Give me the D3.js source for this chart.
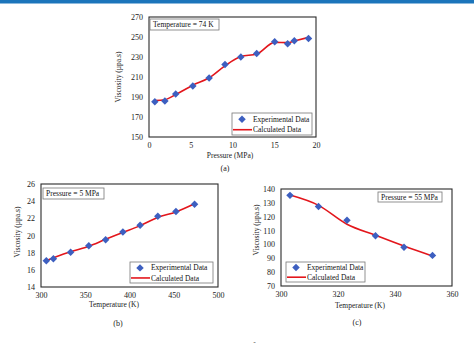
<!DOCTYPE html>
<html>
<head>
<meta charset="utf-8">
<script src="https://cdn.jsdelivr.net/npm/d3@7"></script>
<style>
  html, body { margin: 0; padding: 0; background: #fff; }
  svg { display: block; font-family: "Liberation Serif", "Times New Roman", serif; }
</style>
</head>
<body>
<div id="root"></div>
<script>
// (a) viscosity vs pressure at 74 K
const pressureA = [0.7, 1.9, 3.2, 5.25, 7.2, 9.1, 11.0, 12.9, 15.05, 16.6, 17.4, 19.1];
const expA = [185.3, 185.9, 193, 201, 209, 222.4, 230.1, 233.5, 245.2, 243.3, 246.2, 248.5];
const calcA = [186.5, 187.3, 192.5, 201.8, 209.2, 221.2, 230.6, 233, 244.6, 244.4, 246, 249.6];

// (b) viscosity vs temperature at 5 MPa
const tempB = [306, 314, 333.5, 354, 373, 392.5, 412, 432, 452.5, 473.5];
const expB = [17.05, 17.3, 18.05, 18.8, 19.5, 20.4, 21.2, 22.25, 22.8, 23.65];
const calcB = [17.05, 17.4, 18.1, 18.75, 19.55, 20.35, 21.15, 22.1, 22.75, 23.7];

// (c) viscosity vs temperature at 55 MPa
const tempC = [303.15, 313.15, 323.15, 333.15, 343.15, 353.15];
const expC = [135.4, 127.4, 117.4, 106.3, 97.9, 92.1];
const calcC = [135.6, 128.2, 114.6, 106.6, 98.8, 91.6];

const ticksA = { x: [0, 5, 10, 15, 20], y: [150, 170, 190, 210, 230, 250, 270] };
const ticksB = { x: [300, 350, 400, 450, 500], y: [14, 16, 18, 20, 22, 24, 26] };
const ticksC = { x: [300, 320, 340, 360], y: [70, 80, 90, 100, 110, 120, 130, 140] };

const width = 474;
const height = 343;
const blue = "#3d5fc0";
const red = "#e3161c";
const ink = "#1a1a1a";

const svg = d3.select("#root").append("svg")
  .attr("width", width)
  .attr("height", height);

svg.append("rect")
  .attr("x", 0).attr("y", 0)
  .attr("width", width).attr("height", 3.5)
  .attr("fill", "#1b75bb");

const panels = [
  {
    box: { left: 149, top: 17, right: 316, bottom: 137 },
    xs: pressureA, exp: expA, calc: calcA, ticks: ticksA,
    xLabel: "Pressure (MPa)", xLabelPos: [230, 157.5],
    yLabelPos: [121, 77],
    tag: "(a)", tagPos: [225, 171],
    note: "Temperature = 74 K", noteBox: [150, 19, 69, 11],
    legendBox: [232, 113, 80, 22],
  },
  {
    box: { left: 41, top: 184, right: 218, bottom: 287 },
    xs: tempB, exp: expB, calc: calcB, ticks: ticksB,
    xLabel: "Temperature (K)", xLabelPos: [114, 307],
    yLabelPos: [20, 232],
    tag: "(b)", tagPos: [118, 326],
    note: "Pressure = 5 MPa", noteBox: [43, 188, 61, 11],
    legendBox: [130, 262, 83, 21],
  },
  {
    box: { left: 281, top: 189, right: 452, bottom: 286 },
    xs: tempC, exp: expC, calc: calcC, ticks: ticksC,
    xLabel: "Temperature (K)", xLabelPos: [360, 308],
    yLabelPos: [259, 230],
    tag: "(c)", tagPos: [357, 325],
    note: "Pressure = 55 MPa", noteBox: [378, 192, 64, 10],
    legendBox: [286, 262, 79, 20],
  },
];

panels.forEach(drawPanel);

function drawPanel(p) {
  const b = p.box;
  const x = d3.scaleLinear()
    .domain(d3.extent(p.ticks.x))
    .range([b.left, b.right]);
  const y = d3.scaleLinear()
    .domain(d3.extent(p.ticks.y))
    .range([b.bottom, b.top]);

  const g = svg.append("g");

  g.append("rect")
    .attr("x", b.left).attr("y", b.top)
    .attr("width", b.right - b.left).attr("height", b.bottom - b.top)
    .attr("fill", "none")
    .attr("stroke", "#2a2a2a")
    .attr("stroke-width", 1.1);

  const xAxis = g.append("g")
    .attr("transform", `translate(0,${b.bottom + 3})`)
    .call(d3.axisBottom(x).tickValues(p.ticks.x).tickSize(0).tickPadding(2));
  const yAxis = g.append("g")
    .attr("transform", `translate(${b.left - 3},0)`)
    .call(d3.axisLeft(y).tickValues(p.ticks.y).tickSize(0).tickPadding(3));
  [xAxis, yAxis].forEach(ax => {
    ax.select(".domain").remove();
    ax.selectAll("text")
      .attr("font-family", "Liberation Serif, serif")
      .attr("font-size", 8)
      .attr("fill", ink);
  });

  const line = d3.line()
    .x((d, i) => x(p.xs[i]))
    .y(d => y(d))
    .curve(d3.curveMonotoneX);

  g.append("path")
    .datum(p.calc)
    .attr("fill", "none")
    .attr("stroke", red)
    .attr("stroke-width", 1.6)
    .attr("d", line);

  const diamond = d3.symbol().type(d3.symbolSquare).size(28);
  g.selectAll(".pt")
    .data(p.exp)
    .join("path")
    .attr("class", "pt")
    .attr("d", diamond)
    .attr("transform", (d, i) => `translate(${x(p.xs[i])},${y(d)}) rotate(45)`)
    .attr("fill", blue);

  // axis titles and panel tag
  g.append("text")
    .attr("x", p.xLabelPos[0]).attr("y", p.xLabelPos[1])
    .attr("text-anchor", "middle")
    .attr("font-size", 7.5)
    .attr("fill", ink)
    .text(p.xLabel);

  g.append("text")
    .attr("transform", `translate(${p.yLabelPos[0]},${p.yLabelPos[1]}) rotate(-90)`)
    .attr("text-anchor", "middle")
    .attr("font-size", 7.5)
    .attr("fill", ink)
    .text("Viscosity (µpa.s)");

  g.append("text")
    .attr("x", p.tagPos[0]).attr("y", p.tagPos[1])
    .attr("text-anchor", "middle")
    .attr("font-size", 8)
    .attr("fill", ink)
    .text(p.tag);

  // condition note
  const [nx, ny, nw, nh] = p.noteBox;
  g.append("rect")
    .attr("x", nx).attr("y", ny).attr("width", nw).attr("height", nh)
    .attr("fill", "#fff").attr("stroke", "#777").attr("stroke-width", 0.8);
  g.append("text")
    .attr("x", nx + 3).attr("y", ny + nh / 2 + 2.7)
    .attr("font-size", 7.5)
    .attr("fill", "#111")
    .text(p.note);

  // legend
  const [lx, ly, lw, lh] = p.legendBox;
  const lg = g.append("g");
  lg.append("rect")
    .attr("x", lx).attr("y", ly).attr("width", lw).attr("height", lh)
    .attr("fill", "#fff").attr("stroke", "#777").attr("stroke-width", 0.8);
  const row1 = ly + lh * 0.28;
  const row2 = ly + lh * 0.76;
  lg.append("path")
    .attr("d", diamond)
    .attr("transform", `translate(${lx + 10},${row1}) rotate(45)`)
    .attr("fill", blue);
  lg.append("line")
    .attr("x1", lx + 1).attr("x2", lx + 20)
    .attr("y1", row2).attr("y2", row2)
    .attr("stroke", red).attr("stroke-width", 1.6);
  lg.selectAll(".lt")
    .data(["Experimental Data", "Calculated Data"])
    .join("text")
    .attr("class", "lt")
    .attr("x", lx + 21)
    .attr("y", (d, i) => (i === 0 ? row1 : row2) + 2.6)
    .attr("font-size", 7.5)
    .attr("fill", "#111")
    .text(d => d);
}

// caption line, cut off by the bottom edge
svg.append("text")
  .attr("x", 2).attr("y", 350)
  .attr("font-size", 11)
  .attr("fill", "#222")
  .text("l    d     compared     and  experimental    and  estimated  viscosity  of the RB model");
</script>
</body>
</html>
